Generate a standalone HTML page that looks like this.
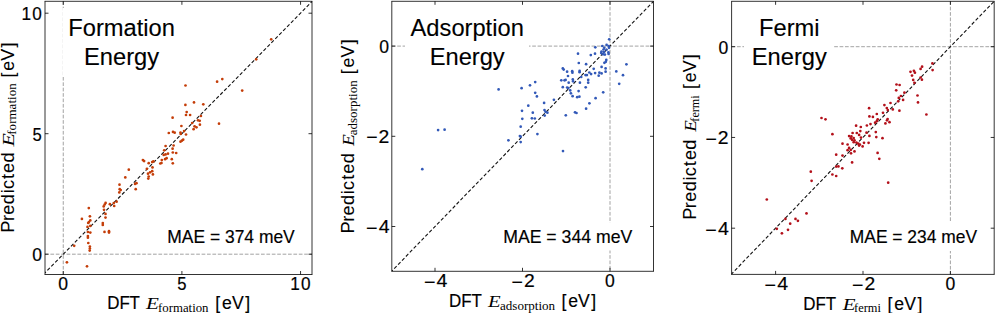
<!DOCTYPE html>
<html><head><meta charset="utf-8"><style>
html,body{margin:0;padding:0;background:#fff;width:996px;height:313px;overflow:hidden}
svg{display:block}
text{stroke:#000;stroke-width:0.18px}
text.t{stroke-width:0.12px}
text.s{stroke:none}
.yl text{stroke-width:0.05px}
.yl text.s{stroke:none}
</style></head><body>
<svg width="996" height="313" viewBox="0 0 996 313">
<rect width="996" height="313" fill="#fff"/>
<line x1="63.25" y1="1.3" x2="63.25" y2="274.5" stroke="#8c8c8c" stroke-width="0.8" stroke-dasharray="3.7 1.7"/>
<line x1="45.0" y1="254.2" x2="312.0" y2="254.2" stroke="#8c8c8c" stroke-width="0.8" stroke-dasharray="3.7 1.7"/>
<clipPath id="cp1"><rect x="45.0" y="1.3" width="267" height="273.2"/></clipPath>
<line clip-path="url(#cp1)" x1="39.52" y1="278.3" x2="317.16" y2="-3.67" stroke="#111" stroke-width="1.1" stroke-dasharray="3.5 2.1"/>
<g fill="#c43d08"><circle cx="74.2" cy="245.8" r="1.35"/><circle cx="66.9" cy="262.3" r="1.35"/><circle cx="87" cy="266.3" r="1.35"/><circle cx="88.3" cy="243" r="1.35"/><circle cx="89.9" cy="246.6" r="1.35"/><circle cx="89.9" cy="248.5" r="1.35"/><circle cx="89.7" cy="250.6" r="1.35"/><circle cx="81.9" cy="218.9" r="1.35"/><circle cx="89.9" cy="216.3" r="1.35"/><circle cx="90.3" cy="220.4" r="1.35"/><circle cx="88.9" cy="222.1" r="1.35"/><circle cx="88.2" cy="223" r="1.35"/><circle cx="87.5" cy="226.9" r="1.35"/><circle cx="90.3" cy="225.9" r="1.35"/><circle cx="87.9" cy="232" r="1.35"/><circle cx="90.3" cy="232.6" r="1.35"/><circle cx="87.9" cy="236" r="1.35"/><circle cx="87.9" cy="237.7" r="1.35"/><circle cx="105.5" cy="213.9" r="1.35"/><circle cx="105.5" cy="217.6" r="1.35"/><circle cx="102.8" cy="223" r="1.35"/><circle cx="102.8" cy="224.9" r="1.35"/><circle cx="104.5" cy="231.9" r="1.35"/><circle cx="109" cy="231.2" r="1.35"/><circle cx="109" cy="232.6" r="1.35"/><circle cx="119.5" cy="184.7" r="1.35"/><circle cx="119.7" cy="189.2" r="1.35"/><circle cx="120.7" cy="190.1" r="1.35"/><circle cx="119.3" cy="192.4" r="1.35"/><circle cx="88.8" cy="208.1" r="1.35"/><circle cx="105.6" cy="202.9" r="1.35"/><circle cx="104.7" cy="204.5" r="1.35"/><circle cx="103.7" cy="206.4" r="1.35"/><circle cx="104" cy="209.8" r="1.35"/><circle cx="109.9" cy="204.2" r="1.35"/><circle cx="113.8" cy="203.1" r="1.35"/><circle cx="114.2" cy="206" r="1.35"/><circle cx="116.6" cy="201.7" r="1.35"/><circle cx="135.1" cy="183.9" r="1.35"/><circle cx="136.5" cy="183.2" r="1.35"/><circle cx="135.7" cy="189.2" r="1.35"/><circle cx="128.8" cy="169.7" r="1.35"/><circle cx="125.3" cy="177.4" r="1.35"/><circle cx="142.9" cy="160.1" r="1.35"/><circle cx="144.1" cy="161.1" r="1.35"/><circle cx="148.7" cy="163.2" r="1.35"/><circle cx="152.2" cy="162.1" r="1.35"/><circle cx="153.4" cy="161.3" r="1.35"/><circle cx="152.5" cy="167.4" r="1.35"/><circle cx="146.9" cy="168.8" r="1.35"/><circle cx="148" cy="173.7" r="1.35"/><circle cx="150.1" cy="172.3" r="1.35"/><circle cx="152.2" cy="171.2" r="1.35"/><circle cx="152.9" cy="174.4" r="1.35"/><circle cx="148.7" cy="176.5" r="1.35"/><circle cx="148.3" cy="178.6" r="1.35"/><circle cx="160.3" cy="163.5" r="1.35"/><circle cx="161.5" cy="163" r="1.35"/><circle cx="161.8" cy="160.1" r="1.35"/><circle cx="165.1" cy="159.2" r="1.35"/><circle cx="166.6" cy="158.2" r="1.35"/><circle cx="171.8" cy="159.2" r="1.35"/><circle cx="172.8" cy="163.3" r="1.35"/><circle cx="163.7" cy="154.9" r="1.35"/><circle cx="165.6" cy="154.4" r="1.35"/><circle cx="168" cy="153.7" r="1.35"/><circle cx="172.8" cy="152.5" r="1.35"/><circle cx="176.2" cy="153" r="1.35"/><circle cx="181.4" cy="126" r="1.35"/><circle cx="168.8" cy="133" r="1.35"/><circle cx="173" cy="131.9" r="1.35"/><circle cx="174.7" cy="132.7" r="1.35"/><circle cx="180.5" cy="132.5" r="1.35"/><circle cx="180.7" cy="134" r="1.35"/><circle cx="184.1" cy="131.1" r="1.35"/><circle cx="180.5" cy="141.7" r="1.35"/><circle cx="181.9" cy="140.7" r="1.35"/><circle cx="183.2" cy="139.7" r="1.35"/><circle cx="165.6" cy="146" r="1.35"/><circle cx="173.6" cy="145.5" r="1.35"/><circle cx="172.6" cy="148.7" r="1.35"/><circle cx="164.2" cy="150.3" r="1.35"/><circle cx="192.2" cy="123" r="1.35"/><circle cx="194.6" cy="126.3" r="1.35"/><circle cx="196.5" cy="127.3" r="1.35"/><circle cx="193.6" cy="129.2" r="1.35"/><circle cx="199.9" cy="124.7" r="1.35"/><circle cx="219" cy="123.7" r="1.35"/><circle cx="186" cy="134.5" r="1.35"/><circle cx="185.4" cy="104.9" r="1.35"/><circle cx="194" cy="102.4" r="1.35"/><circle cx="203.3" cy="104.3" r="1.35"/><circle cx="186.7" cy="112.1" r="1.35"/><circle cx="186" cy="115" r="1.35"/><circle cx="190.1" cy="115" r="1.35"/><circle cx="200.9" cy="116" r="1.35"/><circle cx="198" cy="120.3" r="1.35"/><circle cx="199.7" cy="120.8" r="1.35"/><circle cx="172.6" cy="117.7" r="1.35"/><circle cx="217.1" cy="81.7" r="1.35"/><circle cx="222.3" cy="79.1" r="1.35"/><circle cx="242.2" cy="90.6" r="1.35"/><circle cx="185.5" cy="85.5" r="1.35"/><circle cx="271.2" cy="39.3" r="1.35"/><circle cx="256.2" cy="59.3" r="1.35"/></g>
<rect x="62.5" y="8" width="118.5" height="69" fill="#fff"/>
<text x="121.6" y="36" font-size="23.7" font-family='"Liberation Sans", sans-serif' text-anchor="middle" class="t">Formation</text>
<text x="121.6" y="64.8" font-size="23.7" font-family='"Liberation Sans", sans-serif' text-anchor="middle" class="t">Energy</text>
<text x="167.32" y="242.9" font-size="17.7" font-family='"Liberation Sans", sans-serif' textLength="127.44" lengthAdjust="spacingAndGlyphs" id="ft0">MAE = 374 meV</text>
<g stroke="#000" stroke-width="0.8" fill="none">
<line x1="44.6" y1="1.3" x2="312.4" y2="1.3"/>
<line x1="44.6" y1="274.5" x2="312.4" y2="274.5"/>
<line x1="45.0" y1="1.3" x2="45.0" y2="274.5"/>
<line x1="312.0" y1="1.3" x2="312.0" y2="274.5"/>
<line x1="63.25" y1="274.5" x2="63.25" y2="271.0"/>
<line x1="63.25" y1="1.3" x2="63.25" y2="4.8"/>
<line x1="45.0" y1="254.2" x2="48.5" y2="254.2"/>
<line x1="312.0" y1="254.2" x2="308.5" y2="254.2"/>
<line x1="181.9" y1="274.5" x2="181.9" y2="271.0"/>
<line x1="181.9" y1="1.3" x2="181.9" y2="4.8"/>
<line x1="45.0" y1="133.7" x2="48.5" y2="133.7"/>
<line x1="312.0" y1="133.7" x2="308.5" y2="133.7"/>
<line x1="300.55" y1="274.5" x2="300.55" y2="271.0"/>
<line x1="300.55" y1="1.3" x2="300.55" y2="4.8"/>
<line x1="45.0" y1="13.2" x2="48.5" y2="13.2"/>
<line x1="312.0" y1="13.2" x2="308.5" y2="13.2"/>
</g>
<text transform="translate(57.94,290.1) scale(0.9949,1)" x="0.42" y="0" font-size="17.70" font-family='"Liberation Sans", sans-serif'>0</text>
<text transform="translate(31.77,261.2) scale(0.9949,1)" x="0.42" y="0" font-size="17.70" font-family='"Liberation Sans", sans-serif'>0</text>
<text transform="translate(176.59,290.1) scale(0.9389,1)" x="0.66" y="0" font-size="17.70" font-family='"Liberation Sans", sans-serif'>5</text>
<text transform="translate(31.77,140.7) scale(0.9389,1)" x="0.66" y="0" font-size="17.70" font-family='"Liberation Sans", sans-serif'>5</text>
<text transform="translate(289.92,290.1) scale(0.9737,1)" x="0.44 11.44" y="0 0" font-size="17.70" font-family='"Liberation Sans", sans-serif'>10</text>
<text transform="translate(21.15,20.2) scale(0.9737,1)" x="0.44 11.44" y="0 0" font-size="17.70" font-family='"Liberation Sans", sans-serif'>10</text>
<text transform="translate(106.72,309.3) scale(0.9449,1)" x="0.46 13.43 24.06" y="0 0 0" font-size="17.91" font-family='"Liberation Sans", sans-serif'>DFT</text>
<text class="s" x="146.11" y="309.3" font-size="17" font-family='"Liberation Serif", serif' font-style="italic" textLength="12.87" lengthAdjust="spacingAndGlyphs" id="ft1">E</text>
<text class="s" x="158" y="312.1" font-size="12.5" font-family='"Liberation Serif", serif' textLength="50.5" lengthAdjust="spacingAndGlyphs" id="ft2">formation</text>
<text transform="translate(215.13,309.3) scale(0.9833,1)" x="0.2 7.05 17.18 30.57" y="0 0 0 0" font-size="17.91" font-family='"Liberation Sans", sans-serif'>[eV]</text>
<g class="yl" transform="translate(13.6,0) rotate(-90)"><text transform="translate(-231.96,0) scale(1.0137,1)" x="-0.67 10.81 17.09 27.38 38.08 42.29 52.28 58.27 68.56" y="0 0 0 0 0 0 0 0 0" font-size="17.91" font-family='"Liberation Sans", sans-serif'>Predicted</text><text class="s" x="-146.54" y="0" font-size="17" font-family='"Liberation Serif", serif' font-style="italic" textLength="13.43" lengthAdjust="spacingAndGlyphs" id="ft3">E</text><text class="s" x="-134.74" y="2.8" font-size="12.5" font-family='"Liberation Serif", serif' textLength="51.42" lengthAdjust="spacingAndGlyphs" id="ft4">formation</text><text transform="translate(-77.67,0) scale(0.9833,1)" x="0.2 7.05 17.18 30.57" y="0 0 0 0" font-size="17.91" font-family='"Liberation Sans", sans-serif'>[eV]</text></g>
<line x1="610" y1="1.3" x2="610" y2="271.3" stroke="#8c8c8c" stroke-width="0.8" stroke-dasharray="3.7 1.7"/>
<line x1="391.8" y1="46.1" x2="653.5" y2="46.1" stroke="#8c8c8c" stroke-width="0.8" stroke-dasharray="3.7 1.7"/>
<clipPath id="cp2"><rect x="391.8" y="1.3" width="261.7" height="270"/></clipPath>
<line clip-path="url(#cp2)" x1="382.5" y1="280.62" x2="662.5" y2="-8.02" stroke="#111" stroke-width="1.1" stroke-dasharray="3.5 2.1"/>
<g fill="#3259b8"><circle cx="609.2" cy="39.3" r="1.35"/><circle cx="595.3" cy="47.3" r="1.35"/><circle cx="602.3" cy="46" r="1.35"/><circle cx="606.6" cy="44.9" r="1.35"/><circle cx="608.6" cy="46" r="1.35"/><circle cx="604.3" cy="47.8" r="1.35"/><circle cx="609" cy="47.8" r="1.35"/><circle cx="603.5" cy="49.5" r="1.35"/><circle cx="606.5" cy="49.8" r="1.35"/><circle cx="601.5" cy="51.5" r="1.35"/><circle cx="601.2" cy="53" r="1.35"/><circle cx="604.1" cy="52.1" r="1.35"/><circle cx="602.9" cy="54.3" r="1.35"/><circle cx="604.9" cy="54.6" r="1.35"/><circle cx="608.4" cy="52.4" r="1.35"/><circle cx="608.6" cy="54" r="1.35"/><circle cx="595" cy="53.7" r="1.35"/><circle cx="590.8" cy="55.1" r="1.35"/><circle cx="606.3" cy="59.9" r="1.35"/><circle cx="605.8" cy="61.8" r="1.35"/><circle cx="604.4" cy="62.8" r="1.35"/><circle cx="626.4" cy="64.3" r="1.35"/><circle cx="616.3" cy="71.4" r="1.35"/><circle cx="623" cy="75.2" r="1.35"/><circle cx="619.2" cy="83.8" r="1.35"/><circle cx="578" cy="53.7" r="1.35"/><circle cx="578.8" cy="63" r="1.35"/><circle cx="586.1" cy="64.2" r="1.35"/><circle cx="601.6" cy="66.9" r="1.35"/><circle cx="605.6" cy="68.4" r="1.35"/><circle cx="593.7" cy="68.8" r="1.35"/><circle cx="579.6" cy="70.9" r="1.35"/><circle cx="579.6" cy="72.2" r="1.35"/><circle cx="589.3" cy="72.5" r="1.35"/><circle cx="591.1" cy="74.1" r="1.35"/><circle cx="595.1" cy="73.1" r="1.35"/><circle cx="599.4" cy="72.7" r="1.35"/><circle cx="601.6" cy="73.4" r="1.35"/><circle cx="605.6" cy="71.7" r="1.35"/><circle cx="598.7" cy="75.7" r="1.35"/><circle cx="585.5" cy="75.1" r="1.35"/><circle cx="586.9" cy="75.1" r="1.35"/><circle cx="581.2" cy="77" r="1.35"/><circle cx="588.2" cy="79.9" r="1.35"/><circle cx="588.2" cy="82.7" r="1.35"/><circle cx="579.9" cy="82.7" r="1.35"/><circle cx="585.7" cy="87.3" r="1.35"/><circle cx="578.6" cy="91.1" r="1.35"/><circle cx="603.2" cy="92.3" r="1.35"/><circle cx="562.8" cy="68.4" r="1.35"/><circle cx="563.7" cy="69.6" r="1.35"/><circle cx="567.1" cy="71.7" r="1.35"/><circle cx="572.2" cy="71.2" r="1.35"/><circle cx="572.4" cy="72.7" r="1.35"/><circle cx="568" cy="76" r="1.35"/><circle cx="561.3" cy="80.3" r="1.35"/><circle cx="564.5" cy="80.3" r="1.35"/><circle cx="565.6" cy="79.9" r="1.35"/><circle cx="568.7" cy="82.7" r="1.35"/><circle cx="572.8" cy="79.4" r="1.35"/><circle cx="573.1" cy="81.3" r="1.35"/><circle cx="562.8" cy="87.2" r="1.35"/><circle cx="567.1" cy="87.5" r="1.35"/><circle cx="568.3" cy="88" r="1.35"/><circle cx="570.2" cy="90.4" r="1.35"/><circle cx="570.9" cy="93.3" r="1.35"/><circle cx="535.2" cy="82.1" r="1.35"/><circle cx="535.2" cy="92.8" r="1.35"/><circle cx="498.6" cy="89.4" r="1.35"/><circle cx="521.6" cy="88.2" r="1.35"/><circle cx="530" cy="85.3" r="1.35"/><circle cx="528.3" cy="105.7" r="1.35"/><circle cx="522" cy="110.8" r="1.35"/><circle cx="532.8" cy="112.7" r="1.35"/><circle cx="522.3" cy="118.8" r="1.35"/><circle cx="531.9" cy="118.3" r="1.35"/><circle cx="534.8" cy="118.5" r="1.35"/><circle cx="536.9" cy="96.4" r="1.35"/><circle cx="553.9" cy="99.8" r="1.35"/><circle cx="544.1" cy="102.9" r="1.35"/><circle cx="544.5" cy="110.1" r="1.35"/><circle cx="545.5" cy="111.8" r="1.35"/><circle cx="547.4" cy="112.7" r="1.35"/><circle cx="544.7" cy="115.6" r="1.35"/><circle cx="565.8" cy="115.3" r="1.35"/><circle cx="572.6" cy="96.2" r="1.35"/><circle cx="577.2" cy="97.2" r="1.35"/><circle cx="579.4" cy="96.7" r="1.35"/><circle cx="595.6" cy="98.2" r="1.35"/><circle cx="589.4" cy="103.3" r="1.35"/><circle cx="586.1" cy="108.7" r="1.35"/><circle cx="575" cy="112.3" r="1.35"/><circle cx="576.5" cy="113" r="1.35"/><circle cx="520.7" cy="126.7" r="1.35"/><circle cx="519.9" cy="136" r="1.35"/><circle cx="520.7" cy="136.7" r="1.35"/><circle cx="508.4" cy="140.3" r="1.35"/><circle cx="520.7" cy="142.1" r="1.35"/><circle cx="537.4" cy="134.1" r="1.35"/><circle cx="563" cy="151.1" r="1.35"/><circle cx="438.1" cy="130.1" r="1.35"/><circle cx="444.6" cy="129.7" r="1.35"/><circle cx="422.3" cy="169.2" r="1.35"/></g>
<rect x="405" y="8" width="124" height="69" fill="#fff"/>
<text x="467.2" y="35.8" font-size="23.7" font-family='"Liberation Sans", sans-serif' text-anchor="middle" class="t">Adsorption</text>
<text x="467.2" y="64.7" font-size="23.7" font-family='"Liberation Sans", sans-serif' text-anchor="middle" class="t">Energy</text>
<rect x="500" y="222.5" width="140" height="28.0" fill="#fff"/>
<text x="503.21" y="242.8" font-size="17.7" font-family='"Liberation Sans", sans-serif' textLength="129.03" lengthAdjust="spacingAndGlyphs" id="ft5">MAE = 344 meV</text>
<g stroke="#000" stroke-width="0.8" fill="none">
<line x1="391.40000000000003" y1="1.3" x2="653.9" y2="1.3"/>
<line x1="391.40000000000003" y1="271.3" x2="653.9" y2="271.3"/>
<line x1="391.8" y1="1.3" x2="391.8" y2="271.3"/>
<line x1="653.5" y1="1.3" x2="653.5" y2="271.3"/>
<line x1="435" y1="271.3" x2="435" y2="267.8"/>
<line x1="435" y1="1.3" x2="435" y2="4.8"/>
<line x1="391.8" y1="226.5" x2="395.3" y2="226.5"/>
<line x1="653.5" y1="226.5" x2="650.0" y2="226.5"/>
<line x1="522.5" y1="271.3" x2="522.5" y2="267.8"/>
<line x1="522.5" y1="1.3" x2="522.5" y2="4.8"/>
<line x1="391.8" y1="136.3" x2="395.3" y2="136.3"/>
<line x1="653.5" y1="136.3" x2="650.0" y2="136.3"/>
<line x1="610" y1="271.3" x2="610" y2="267.8"/>
<line x1="610" y1="1.3" x2="610" y2="4.8"/>
<line x1="391.8" y1="46.1" x2="395.3" y2="46.1"/>
<line x1="653.5" y1="46.1" x2="650.0" y2="46.1"/>
</g>
<text transform="translate(422.69,286.9) scale(1.1035,1)" x="1.17 12.58" y="0.65 0" font-size="17.70" font-family='"Liberation Sans", sans-serif'>−4</text>
<text transform="translate(364.78,233) scale(1.1035,1)" x="1.17 12.58" y="0.65 0" font-size="17.70" font-family='"Liberation Sans", sans-serif'>−4</text>
<text transform="translate(510.19,286.9) scale(1.0916,1)" x="1.24 12.56" y="0.65 0" font-size="17.70" font-family='"Liberation Sans", sans-serif'>−2</text>
<text transform="translate(364.78,142.8) scale(1.0916,1)" x="1.24 12.56" y="0.65 0" font-size="17.70" font-family='"Liberation Sans", sans-serif'>−2</text>
<text transform="translate(604.69,286.9) scale(0.9949,1)" x="0.42" y="0" font-size="17.70" font-family='"Liberation Sans", sans-serif'>0</text>
<text transform="translate(378.77,52.6) scale(0.9949,1)" x="0.42" y="0" font-size="17.70" font-family='"Liberation Sans", sans-serif'>0</text>
<text transform="translate(448.67,306.9) scale(0.9449,1)" x="0.46 13.43 24.06" y="0 0 0" font-size="17.91" font-family='"Liberation Sans", sans-serif'>DFT</text>
<text class="s" x="488.09" y="306.9" font-size="17" font-family='"Liberation Serif", serif' font-style="italic" textLength="12.61" lengthAdjust="spacingAndGlyphs" id="ft6">E</text>
<text class="s" x="499.99" y="309.7" font-size="12.5" font-family='"Liberation Serif", serif' textLength="55.14" lengthAdjust="spacingAndGlyphs" id="ft7">adsorption</text>
<text transform="translate(561.23,306.9) scale(0.9833,1)" x="0.2 7.05 17.18 30.57" y="0 0 0 0" font-size="17.91" font-family='"Liberation Sans", sans-serif'>[eV]</text>
<g class="yl" transform="translate(353.9,0) rotate(-90)"><text transform="translate(-232.76,0) scale(1.0137,1)" x="-0.67 10.81 17.09 27.38 38.08 42.29 52.28 58.27 68.56" y="0 0 0 0 0 0 0 0 0" font-size="17.91" font-family='"Liberation Sans", sans-serif'>Predicted</text><text class="s" x="-146.03" y="0" font-size="17" font-family='"Liberation Serif", serif' font-style="italic" textLength="11.85" lengthAdjust="spacingAndGlyphs" id="ft8">E</text><text class="s" x="-135.27" y="2.8" font-size="12.5" font-family='"Liberation Serif", serif' textLength="54.94" lengthAdjust="spacingAndGlyphs" id="ft9">adsorption</text><text transform="translate(-74.42,0) scale(0.9833,1)" x="0.2 7.05 17.18 30.57" y="0 0 0 0" font-size="17.91" font-family='"Liberation Sans", sans-serif'>[eV]</text></g>
<line x1="950.4" y1="1.3" x2="950.4" y2="274.4" stroke="#8c8c8c" stroke-width="0.8" stroke-dasharray="3.7 1.7"/>
<line x1="731.6" y1="46.7" x2="994.2" y2="46.7" stroke="#8c8c8c" stroke-width="0.8" stroke-dasharray="3.7 1.7"/>
<clipPath id="cp3"><rect x="731.6" y="1.3" width="262.6" height="273.1"/></clipPath>
<line clip-path="url(#cp3)" x1="723.16" y1="282.65" x2="1002.84" y2="-7.75" stroke="#111" stroke-width="1.1" stroke-dasharray="3.5 2.1"/>
<g fill="#b3101a"><circle cx="932.4" cy="63.4" r="1.35"/><circle cx="932.6" cy="70.1" r="1.35"/><circle cx="922.1" cy="66.7" r="1.35"/><circle cx="920.6" cy="68.9" r="1.35"/><circle cx="910.5" cy="71.8" r="1.35"/><circle cx="913.9" cy="70.8" r="1.35"/><circle cx="914.9" cy="72.7" r="1.35"/><circle cx="912" cy="75.6" r="1.35"/><circle cx="920.6" cy="77.5" r="1.35"/><circle cx="921.9" cy="79.7" r="1.35"/><circle cx="913.2" cy="79.9" r="1.35"/><circle cx="914.4" cy="82.8" r="1.35"/><circle cx="896.5" cy="84.5" r="1.35"/><circle cx="899.6" cy="85" r="1.35"/><circle cx="896.2" cy="90.3" r="1.35"/><circle cx="898.8" cy="97.9" r="1.35"/><circle cx="898.2" cy="101.3" r="1.35"/><circle cx="890.5" cy="103" r="1.35"/><circle cx="884.4" cy="105.1" r="1.35"/><circle cx="886.8" cy="108" r="1.35"/><circle cx="887.8" cy="110.1" r="1.35"/><circle cx="892.8" cy="109.4" r="1.35"/><circle cx="869.1" cy="108.2" r="1.35"/><circle cx="883" cy="112.8" r="1.35"/><circle cx="876.8" cy="114" r="1.35"/><circle cx="899.4" cy="110.7" r="1.35"/><circle cx="904.4" cy="92.7" r="1.35"/><circle cx="900.9" cy="96" r="1.35"/><circle cx="903.1" cy="99.9" r="1.35"/><circle cx="917.5" cy="95.5" r="1.35"/><circle cx="918" cy="102.4" r="1.35"/><circle cx="926.4" cy="114.5" r="1.35"/><circle cx="869.4" cy="116.4" r="1.35"/><circle cx="872.9" cy="116.9" r="1.35"/><circle cx="877.7" cy="119.3" r="1.35"/><circle cx="876.8" cy="121.2" r="1.35"/><circle cx="875.1" cy="122.7" r="1.35"/><circle cx="887.6" cy="119" r="1.35"/><circle cx="887" cy="120.3" r="1.35"/><circle cx="889.5" cy="122.2" r="1.35"/><circle cx="885.4" cy="123.4" r="1.35"/><circle cx="870.5" cy="124.1" r="1.35"/><circle cx="866.9" cy="125.5" r="1.35"/><circle cx="860.8" cy="127" r="1.35"/><circle cx="866.5" cy="132.7" r="1.35"/><circle cx="875.8" cy="132.1" r="1.35"/><circle cx="869.4" cy="135.9" r="1.35"/><circle cx="876.3" cy="137.1" r="1.35"/><circle cx="882.5" cy="138.2" r="1.35"/><circle cx="864" cy="142.8" r="1.35"/><circle cx="868.6" cy="142.8" r="1.35"/><circle cx="860.3" cy="131.1" r="1.35"/><circle cx="856.8" cy="133" r="1.35"/><circle cx="852.6" cy="133" r="1.35"/><circle cx="859.1" cy="134.9" r="1.35"/><circle cx="849.1" cy="136.1" r="1.35"/><circle cx="851.4" cy="136.4" r="1.35"/><circle cx="853.7" cy="138" r="1.35"/><circle cx="850.7" cy="138.4" r="1.35"/><circle cx="852.2" cy="139.9" r="1.35"/><circle cx="854.5" cy="140.3" r="1.35"/><circle cx="861" cy="137.6" r="1.35"/><circle cx="853.7" cy="142.2" r="1.35"/><circle cx="856.4" cy="142.6" r="1.35"/><circle cx="858.3" cy="143.7" r="1.35"/><circle cx="859.9" cy="144.5" r="1.35"/><circle cx="859.1" cy="145.6" r="1.35"/><circle cx="862.6" cy="146.4" r="1.35"/><circle cx="847.6" cy="144.5" r="1.35"/><circle cx="849.1" cy="147.9" r="1.35"/><circle cx="847.6" cy="150.2" r="1.35"/><circle cx="850.7" cy="149.9" r="1.35"/><circle cx="854.5" cy="151.4" r="1.35"/><circle cx="832.4" cy="134.2" r="1.35"/><circle cx="856.1" cy="125.7" r="1.35"/><circle cx="842.5" cy="143.7" r="1.35"/><circle cx="836.2" cy="154.7" r="1.35"/><circle cx="842.5" cy="155.6" r="1.35"/><circle cx="851" cy="153.3" r="1.35"/><circle cx="852.1" cy="162.4" r="1.35"/><circle cx="836.2" cy="166.6" r="1.35"/><circle cx="838.4" cy="166.4" r="1.35"/><circle cx="842.3" cy="168.3" r="1.35"/><circle cx="832.4" cy="174.5" r="1.35"/><circle cx="836.2" cy="176" r="1.35"/><circle cx="877.6" cy="152.9" r="1.35"/><circle cx="879.3" cy="158.8" r="1.35"/><circle cx="888.2" cy="182.7" r="1.35"/><circle cx="810.8" cy="171.7" r="1.35"/><circle cx="811.6" cy="180.8" r="1.35"/><circle cx="806.5" cy="213.4" r="1.35"/><circle cx="766.8" cy="199.5" r="1.35"/><circle cx="785.4" cy="218.9" r="1.35"/><circle cx="795.5" cy="218.9" r="1.35"/><circle cx="797.9" cy="220.8" r="1.35"/><circle cx="790.2" cy="223.7" r="1.35"/><circle cx="776.8" cy="228.8" r="1.35"/><circle cx="788" cy="229.8" r="1.35"/><circle cx="781.9" cy="233.3" r="1.35"/><circle cx="821.5" cy="118" r="1.35"/><circle cx="825.5" cy="119.3" r="1.35"/></g>
<rect x="744" y="8" width="89" height="69" fill="#fff"/>
<text x="789.3" y="35.8" font-size="23.7" font-family='"Liberation Sans", sans-serif' text-anchor="middle" class="t">Fermi</text>
<text x="789.3" y="64.6" font-size="23.7" font-family='"Liberation Sans", sans-serif' text-anchor="middle" class="t">Energy</text>
<rect x="846" y="222" width="139" height="29" fill="#fff"/>
<text x="849.81" y="242.9" font-size="17.7" font-family='"Liberation Sans", sans-serif' textLength="127.19" lengthAdjust="spacingAndGlyphs" id="ft10">MAE = 234 meV</text>
<g stroke="#000" stroke-width="0.8" fill="none">
<line x1="731.2" y1="1.3" x2="994.6" y2="1.3"/>
<line x1="731.2" y1="274.4" x2="994.6" y2="274.4"/>
<line x1="731.6" y1="1.3" x2="731.6" y2="274.4"/>
<line x1="994.2" y1="1.3" x2="994.2" y2="274.4"/>
<line x1="775.6" y1="274.4" x2="775.6" y2="270.9"/>
<line x1="775.6" y1="1.3" x2="775.6" y2="4.8"/>
<line x1="731.6" y1="228.2" x2="735.1" y2="228.2"/>
<line x1="994.2" y1="228.2" x2="990.7" y2="228.2"/>
<line x1="863" y1="274.4" x2="863" y2="270.9"/>
<line x1="863" y1="1.3" x2="863" y2="4.8"/>
<line x1="731.6" y1="137.45" x2="735.1" y2="137.45"/>
<line x1="994.2" y1="137.45" x2="990.7" y2="137.45"/>
<line x1="950.4" y1="274.4" x2="950.4" y2="270.9"/>
<line x1="950.4" y1="1.3" x2="950.4" y2="4.8"/>
<line x1="731.6" y1="46.7" x2="735.1" y2="46.7"/>
<line x1="994.2" y1="46.7" x2="990.7" y2="46.7"/>
</g>
<text transform="translate(763.29,290) scale(1.1035,1)" x="1.17 12.58" y="0.65 0" font-size="17.70" font-family='"Liberation Sans", sans-serif'>−4</text>
<text transform="translate(704.08,235.2) scale(1.1035,1)" x="1.17 12.58" y="0.65 0" font-size="17.70" font-family='"Liberation Sans", sans-serif'>−4</text>
<text transform="translate(850.69,290) scale(1.0916,1)" x="1.24 12.56" y="0.65 0" font-size="17.70" font-family='"Liberation Sans", sans-serif'>−2</text>
<text transform="translate(704.08,144.45) scale(1.0916,1)" x="1.24 12.56" y="0.65 0" font-size="17.70" font-family='"Liberation Sans", sans-serif'>−2</text>
<text transform="translate(945.09,290) scale(0.9949,1)" x="0.42" y="0" font-size="17.70" font-family='"Liberation Sans", sans-serif'>0</text>
<text transform="translate(718.07,53.7) scale(0.9949,1)" x="0.42" y="0" font-size="17.70" font-family='"Liberation Sans", sans-serif'>0</text>
<text transform="translate(802.92,309.6) scale(0.9449,1)" x="0.46 13.43 24.06" y="0 0 0" font-size="17.91" font-family='"Liberation Sans", sans-serif'>DFT</text>
<text class="s" x="842.67" y="309.6" font-size="17" font-family='"Liberation Serif", serif' font-style="italic" textLength="12.79" lengthAdjust="spacingAndGlyphs" id="ft11">E</text>
<text class="s" x="854.05" y="312.4" font-size="12.5" font-family='"Liberation Serif", serif' textLength="26.8" lengthAdjust="spacingAndGlyphs" id="ft12">fermi</text>
<text transform="translate(887.43,309.6) scale(0.9833,1)" x="0.2 7.05 17.18 30.57" y="0 0 0 0" font-size="17.91" font-family='"Liberation Sans", sans-serif'>[eV]</text>
<g class="yl" transform="translate(696.2,0) rotate(-90)"><text transform="translate(-219.11,0) scale(1.0137,1)" x="-0.67 10.81 17.09 27.38 38.08 42.29 52.28 58.27 68.56" y="0 0 0 0 0 0 0 0 0" font-size="17.91" font-family='"Liberation Sans", sans-serif'>Predicted</text><text class="s" x="-131.87" y="0" font-size="17" font-family='"Liberation Serif", serif' font-style="italic" textLength="11.66" lengthAdjust="spacingAndGlyphs" id="ft13">E</text><text class="s" x="-121.65" y="2.8" font-size="12.5" font-family='"Liberation Serif", serif' textLength="26.18" lengthAdjust="spacingAndGlyphs" id="ft14">fermi</text><text transform="translate(-89.22,0) scale(0.9833,1)" x="0.2 7.05 17.18 30.57" y="0 0 0 0" font-size="17.91" font-family='"Liberation Sans", sans-serif'>[eV]</text></g>
</svg>
</body></html>
